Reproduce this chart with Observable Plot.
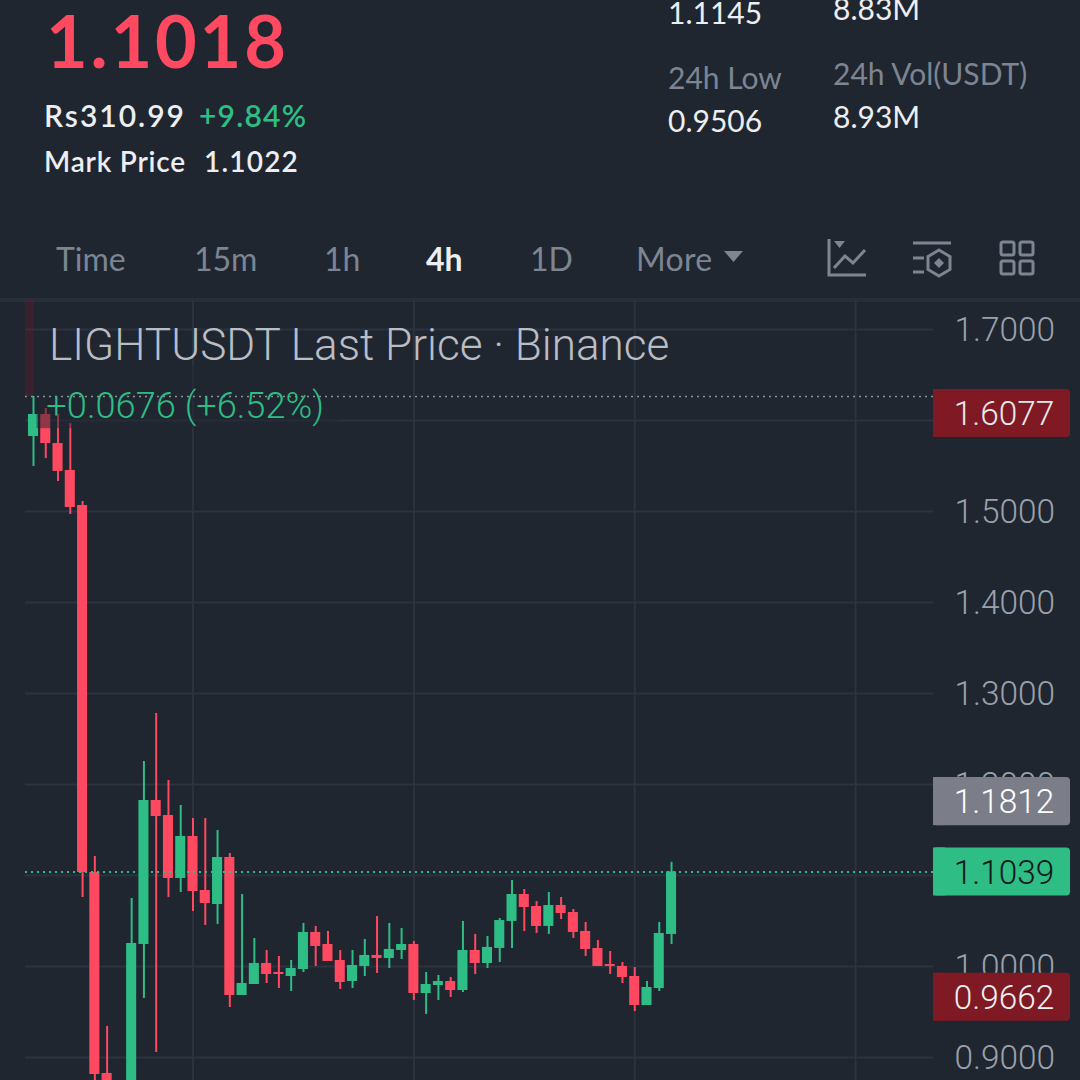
<!DOCTYPE html>
<html><head><meta charset="utf-8">
<script src="https://cdn.jsdelivr.net/npm/d3@7"></script>
<script src="https://cdn.jsdelivr.net/npm/@observablehq/plot@0.6"></script>
<style>
html,body{margin:0;padding:0;background:#1f2630;width:1080px;height:1080px;overflow:hidden}
#page{position:relative;width:1080px;height:1080px;overflow:hidden;font-family:Lato,sans-serif}
#header{position:absolute;left:0;top:0;width:1080px;height:300px}
#header span{position:absolute;white-space:nowrap;line-height:1}
#chart{position:absolute;left:0;top:300px;width:1080px;height:780px}
#rule{position:absolute;left:0;top:298px;width:1080px;height:4px;background:#282f3a}
#chart svg{display:block;background:transparent}
</style></head><body>
<div id="page"><div id="header"></div><div id="rule"></div><div id="chart"></div></div>
<script>
const open  = [1.5824,1.6066,1.5747,1.5451,1.5066,1.1033,0.8824,null,0.8527,1.0242,1.1824,1.1659,1.0967,1.1429,1.0835,1.0681,1.1198,0.9681,0.9802,1.0033,0.9934,0.9890,0.9967,1.0374,1.0242,1.0066,0.9835,1.0000,1.0121,1.0088,1.0176,1.0242,0.9703,0.9791,0.9835,0.9736,1.0176,1.0033,1.0198,1.0495,1.0791,1.0659,1.0440,1.0670,1.0593,1.0385,1.0198,1.0022,1.0000,0.9890,0.9571,0.9758,1.0352];
const close = [1.6066,1.5747,1.5440,1.5044,1.1033,0.8813,0.8418,null,1.0253,1.1824,1.1648,1.0967,1.1429,1.0824,1.0692,1.1198,0.9681,0.9813,1.0033,0.9912,0.9912,0.9978,1.0374,1.0220,1.0055,0.9824,1.0011,1.0121,1.0088,1.0187,1.0242,0.9703,0.9802,0.9835,0.9736,1.0176,1.0033,1.0209,1.0505,1.0791,1.0648,1.0440,1.0670,1.0582,1.0374,1.0187,1.0000,1.0000,0.9879,0.9571,0.9769,1.0363,1.1039];
const high  = [1.6264,1.6132,1.6066,1.5967,1.5110,1.1209,0.9341,null,1.0747,1.2253,1.2780,1.2044,1.1769,1.1626,1.1626,1.1495,1.1242,1.0791,1.0308,1.0176,1.0110,1.0066,1.0473,1.0440,1.0385,1.0176,1.0176,1.0297,1.0549,1.0473,1.0418,1.0275,0.9934,0.9901,0.9879,1.0495,1.0352,1.0330,1.0527,1.0945,1.0846,1.0714,1.0813,1.0758,1.0626,1.0484,1.0286,1.0165,1.0044,0.9989,0.9835,1.0484,1.1145];
const low   = [1.5495,1.5582,1.5330,1.4967,1.0758,0.8692,0.8308,null,0.8363,0.9648,0.9055,1.0758,1.0813,1.0604,1.0451,1.0462,0.9549,0.9681,0.9802,0.9813,0.9758,0.9725,0.9934,1.0000,1.0055,0.9747,0.9758,0.9890,0.9923,0.9978,1.0077,0.9626,0.9473,0.9626,0.9659,0.9714,0.9912,0.9978,1.0044,1.0198,1.0385,1.0363,1.0352,1.0516,1.0308,1.0110,1.0000,0.9912,0.9813,0.9505,0.9571,0.9725,1.0242];
const gridPrices = [0.9,1.0,1.1,1.2,1.3,1.4,1.5,1.6,1.7];
const gridIndexes = [13,31,49,67];
const tagPrices = [1.6077,1.1812,1.1039,0.9662];
const tagFills = ["#7f1a24","#7b7e88","#2ebd85","#7f1a24"];
const tagTexts = ["#e8e9ec","#ffffff","#10161c","#eef0f2"];
const highLine = 1.6264, lastLine = 1.1039;
const title = "LIGHTUSDT Last Price · Binance";
const change = "+0.0676 (+6.52%)";
const tabs = ["Time","15m","1h","4h","1D","More"];

const green="#2ebd85", red="#ff4961", bg="#1f2630";
const candles = open.map((o,i)=>({i,o,c:close[i],h:high[i],l:low[i]})).filter(d=>d.o!=null);
const color = d=>d.c>=d.o?green:red;
const tags = tagPrices.map((p,k)=>({p,fill:tagFills[k],text:tagTexts[k]}));
const xMin=-0.652, xMax=73.35, xEdge=84.52, xText=83.2, tagH=0.0264;

const plot = Plot.plot({
  width:1080,height:780,marginLeft:25,marginRight:147,marginTop:0,marginBottom:0,
  style:{background:"transparent",overflow:"hidden"},
  x:{domain:[xMin,xMax],axis:null},
  y:{domain:[0.8747,1.7319],axis:null},
  marks:[
    Plot.ruleY(gridPrices,{stroke:"#2c333e",strokeWidth:2}),
    Plot.ruleX(gridIndexes,{stroke:"#2c333e",strokeWidth:2}),
    Plot.axisY(gridPrices,{anchor:"right",tickSize:0,tickPadding:21,tickFormat:d3.format(".4f"),fontSize:33.4,textAnchor:"start",color:"#9ba1ac",label:null,fontWeight:300,fontFamily:"Roboto",dy:1}),
    Plot.rect([0],{x1:xMin,x2:0.08,y1:1.7319,y2:highLine,fill:"#7f1a2a",fillOpacity:0.28}),
    Plot.ruleX(candles,{x:"i",y1:"l",y2:"h",stroke:color,strokeWidth:2,clip:true}),
    Plot.rect(candles,{x1:d=>d.i-0.41,x2:d=>d.i+0.41,y1:"o",y2:"c",fill:color,clip:true}),
    Plot.rect([0],{x1:0.29,x2:25,y1:1.591,y2:1.66,fill:bg,fillOpacity:0.5}),
    Plot.ruleY([highLine],{stroke:"#8d929b",strokeWidth:1.5,strokeDasharray:"2,4"}),
    Plot.ruleY([lastLine],{stroke:green,strokeWidth:2,strokeDasharray:"2,4"}),
    Plot.rect(tags,{x1:xMax,x2:xEdge,y1:d=>d.p-tagH,y2:d=>d.p+tagH,fill:"fill",rx:4}),
    Plot.rect(tags,{x1:xMax,x2:xMax+1,y1:d=>d.p-tagH,y2:d=>d.p+tagH,fill:"fill"}),
    Plot.text(tags,{x:xText,y:"p",text:d=>d.p.toFixed(4),textAnchor:"end",fontSize:33.4,fontWeight:300,fontFamily:"Roboto",fill:"text",dy:1}),
    Plot.text([title],{x:()=>xMin+1.92,y:()=>1.6825,text:d=>d,textAnchor:"start",fontSize:44.1,fontWeight:300,fontFamily:"Roboto",fill:"#b9bdc4"}),
    Plot.text([change],{x:()=>xMin+1.7,y:()=>1.6155,text:d=>d,textAnchor:"start",fontSize:36.2,fontWeight:300,fontFamily:"Roboto",fill:green})
  ]
});
document.getElementById("chart").appendChild(plot);

const head=document.getElementById("header");
function put(t,x,base,size,col,w,ls){
  const s=document.createElement("span");
  s.textContent=t;
  s.style.cssText=`left:${x}px;top:${base-0.887*size}px;font-size:${size}px;color:${col};font-weight:${w||400};letter-spacing:${ls||0}px;font-family:Lato`;
  head.appendChild(s);
}
const white="#eceef1", mute="#7d8592";
put("1.1018",46,68,72,red,700,2.8);
put("Rs310.99",44,127,30,white,600,2);
put("+9.84%",199,127,30,green,600,1.2);
put("Mark Price",44,172,28,white,600,0.8);
put("1.1022",204,172,28,white,600,1.2);
put("1.1145",668,24,30,white,400);
put("8.83M",833,20,30,white,400);
put("24h Low",668,89,30,mute,400);
put("24h Vol(USDT)",833,85,30,mute,400);
put("0.9506",668,132,30,white,400);
put("8.93M",833,128,30,white,400);
const tabX=[56,194,324,426,530,636];
tabs.forEach((t,i)=>put(t,tabX[i],271,32,i===3?white:mute,i===3?700:400,i===5?0.3:0));
const ic=document.createElementNS("http://www.w3.org/2000/svg","svg");
ic.setAttribute("width",1080);ic.setAttribute("height",300);
ic.style.cssText="position:absolute;left:0;top:0";
ic.innerHTML=`<g fill="none" stroke="${mute}" stroke-width="3">
<path d="M724 251h19l-9.500 11z" fill="${mute}" stroke="none"/>
<path d="M829 239v36h37"/><path d="M834 268l11-12 8 7 12-13"/><path d="M834 241h11l-5.500 7z" fill="${mute}" stroke="none"/>
<path d="M913 243h38M913 258h11M913 272h11"/><path d="M939 250l11 6.500v13l-11 6.500-11-6.500v-13z"/><path d="M939 258l5 5-5 5-5-5z" fill="${mute}" stroke="none"/>
<rect x="1001" y="242" width="13" height="13" rx="2"/><rect x="1020" y="242" width="13" height="13" rx="2"/><rect x="1001" y="261" width="13" height="13" rx="2"/><rect x="1020" y="261" width="13" height="13" rx="2"/>
</g>`;
head.appendChild(ic);
</script></body></html>
